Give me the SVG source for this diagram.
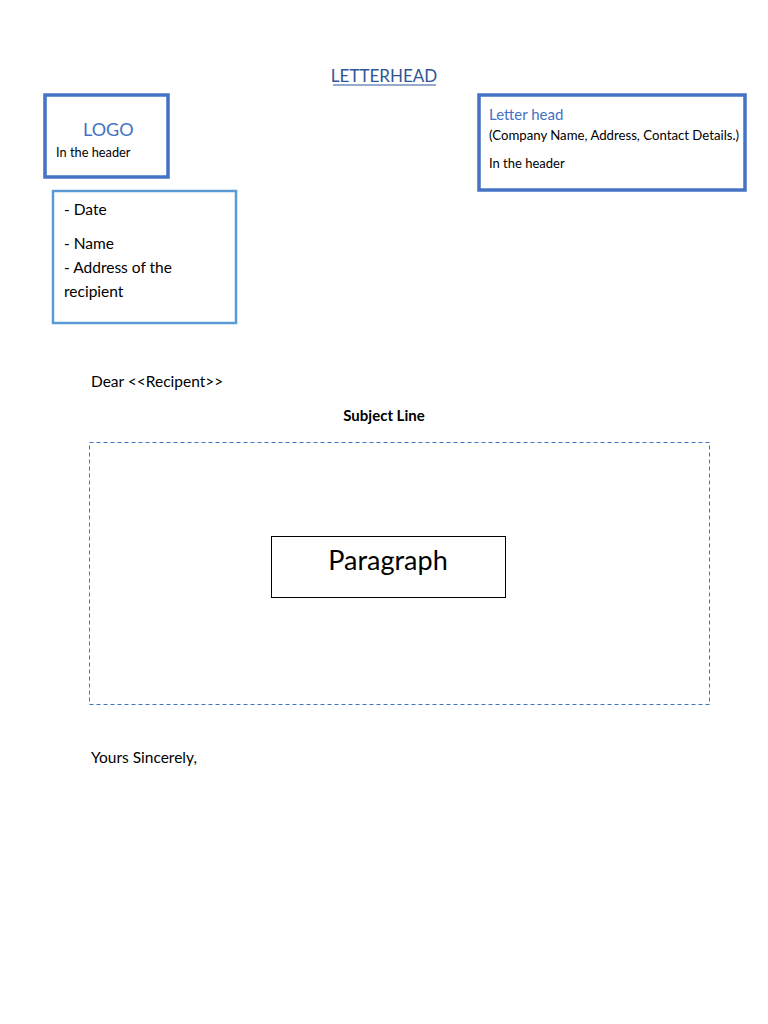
<svg xmlns="http://www.w3.org/2000/svg" width="768" height="1024" viewBox="0 0 768 1024">
<style>
text{font-family:Lato,"Open Sans",sans-serif;fill:#000}
.blue{fill:#4472C4}
.b3{fill:#fff;stroke:#4472C4;stroke-width:3.5}
.b2{fill:#fff;stroke:#5B9BD5;stroke-width:2.5}
</style>
<rect width="768" height="1024" fill="#fff"/>
<g id="title"><text x="384" y="82" text-anchor="middle" font-size="17" fill="#2F5597" style="fill:#2F5597">LETTERHEAD</text><line x1="333" y1="85" x2="436" y2="85" stroke="#2F5597" stroke-width="1"/></g>
<g id="logo"><rect class="b3" x="45" y="95" width="123" height="82"/><text x="83" y="136" font-size="18" class="blue">LOGO</text><text x="56" y="157" font-size="12.8">In the header</text></g>
<g id="letterhead"><rect class="b3" x="479" y="95" width="266" height="95"/><text x="489" y="120" font-size="15" class="blue">Letter head</text><text x="489" y="140" font-size="13.2">(Company Name, Address, Contact Details.)</text><text x="489" y="168" font-size="13">In the header</text></g>
<g id="recipient"><rect class="b2" x="53" y="191" width="183" height="132"/><text x="64" y="215" font-size="15.5">- Date</text><text x="64" y="249" font-size="15.5">- Name</text><text x="64" y="273" font-size="15.5">- Address of the</text><text x="64" y="297" font-size="15.5">recipient</text></g>
<text x="91" y="387" font-size="15.5">Dear &lt;&lt;Recipent&gt;&gt;</text>
<text x="384" y="421" text-anchor="middle" font-size="15" font-weight="bold">Subject Line</text>
<g id="body"><rect x="89.5" y="442.5" width="620" height="262" fill="none" stroke="#4472C4" stroke-width="1" stroke-dasharray="4,3"/></g>
<g id="paragraph"><rect x="271.5" y="536.5" width="234" height="61" fill="#fff" stroke="#000" stroke-width="1"/><text x="388" y="570" text-anchor="middle" font-size="27">Paragraph</text></g>
<text x="91" y="763" font-size="15.5">Yours Sincerely,</text>
</svg>
